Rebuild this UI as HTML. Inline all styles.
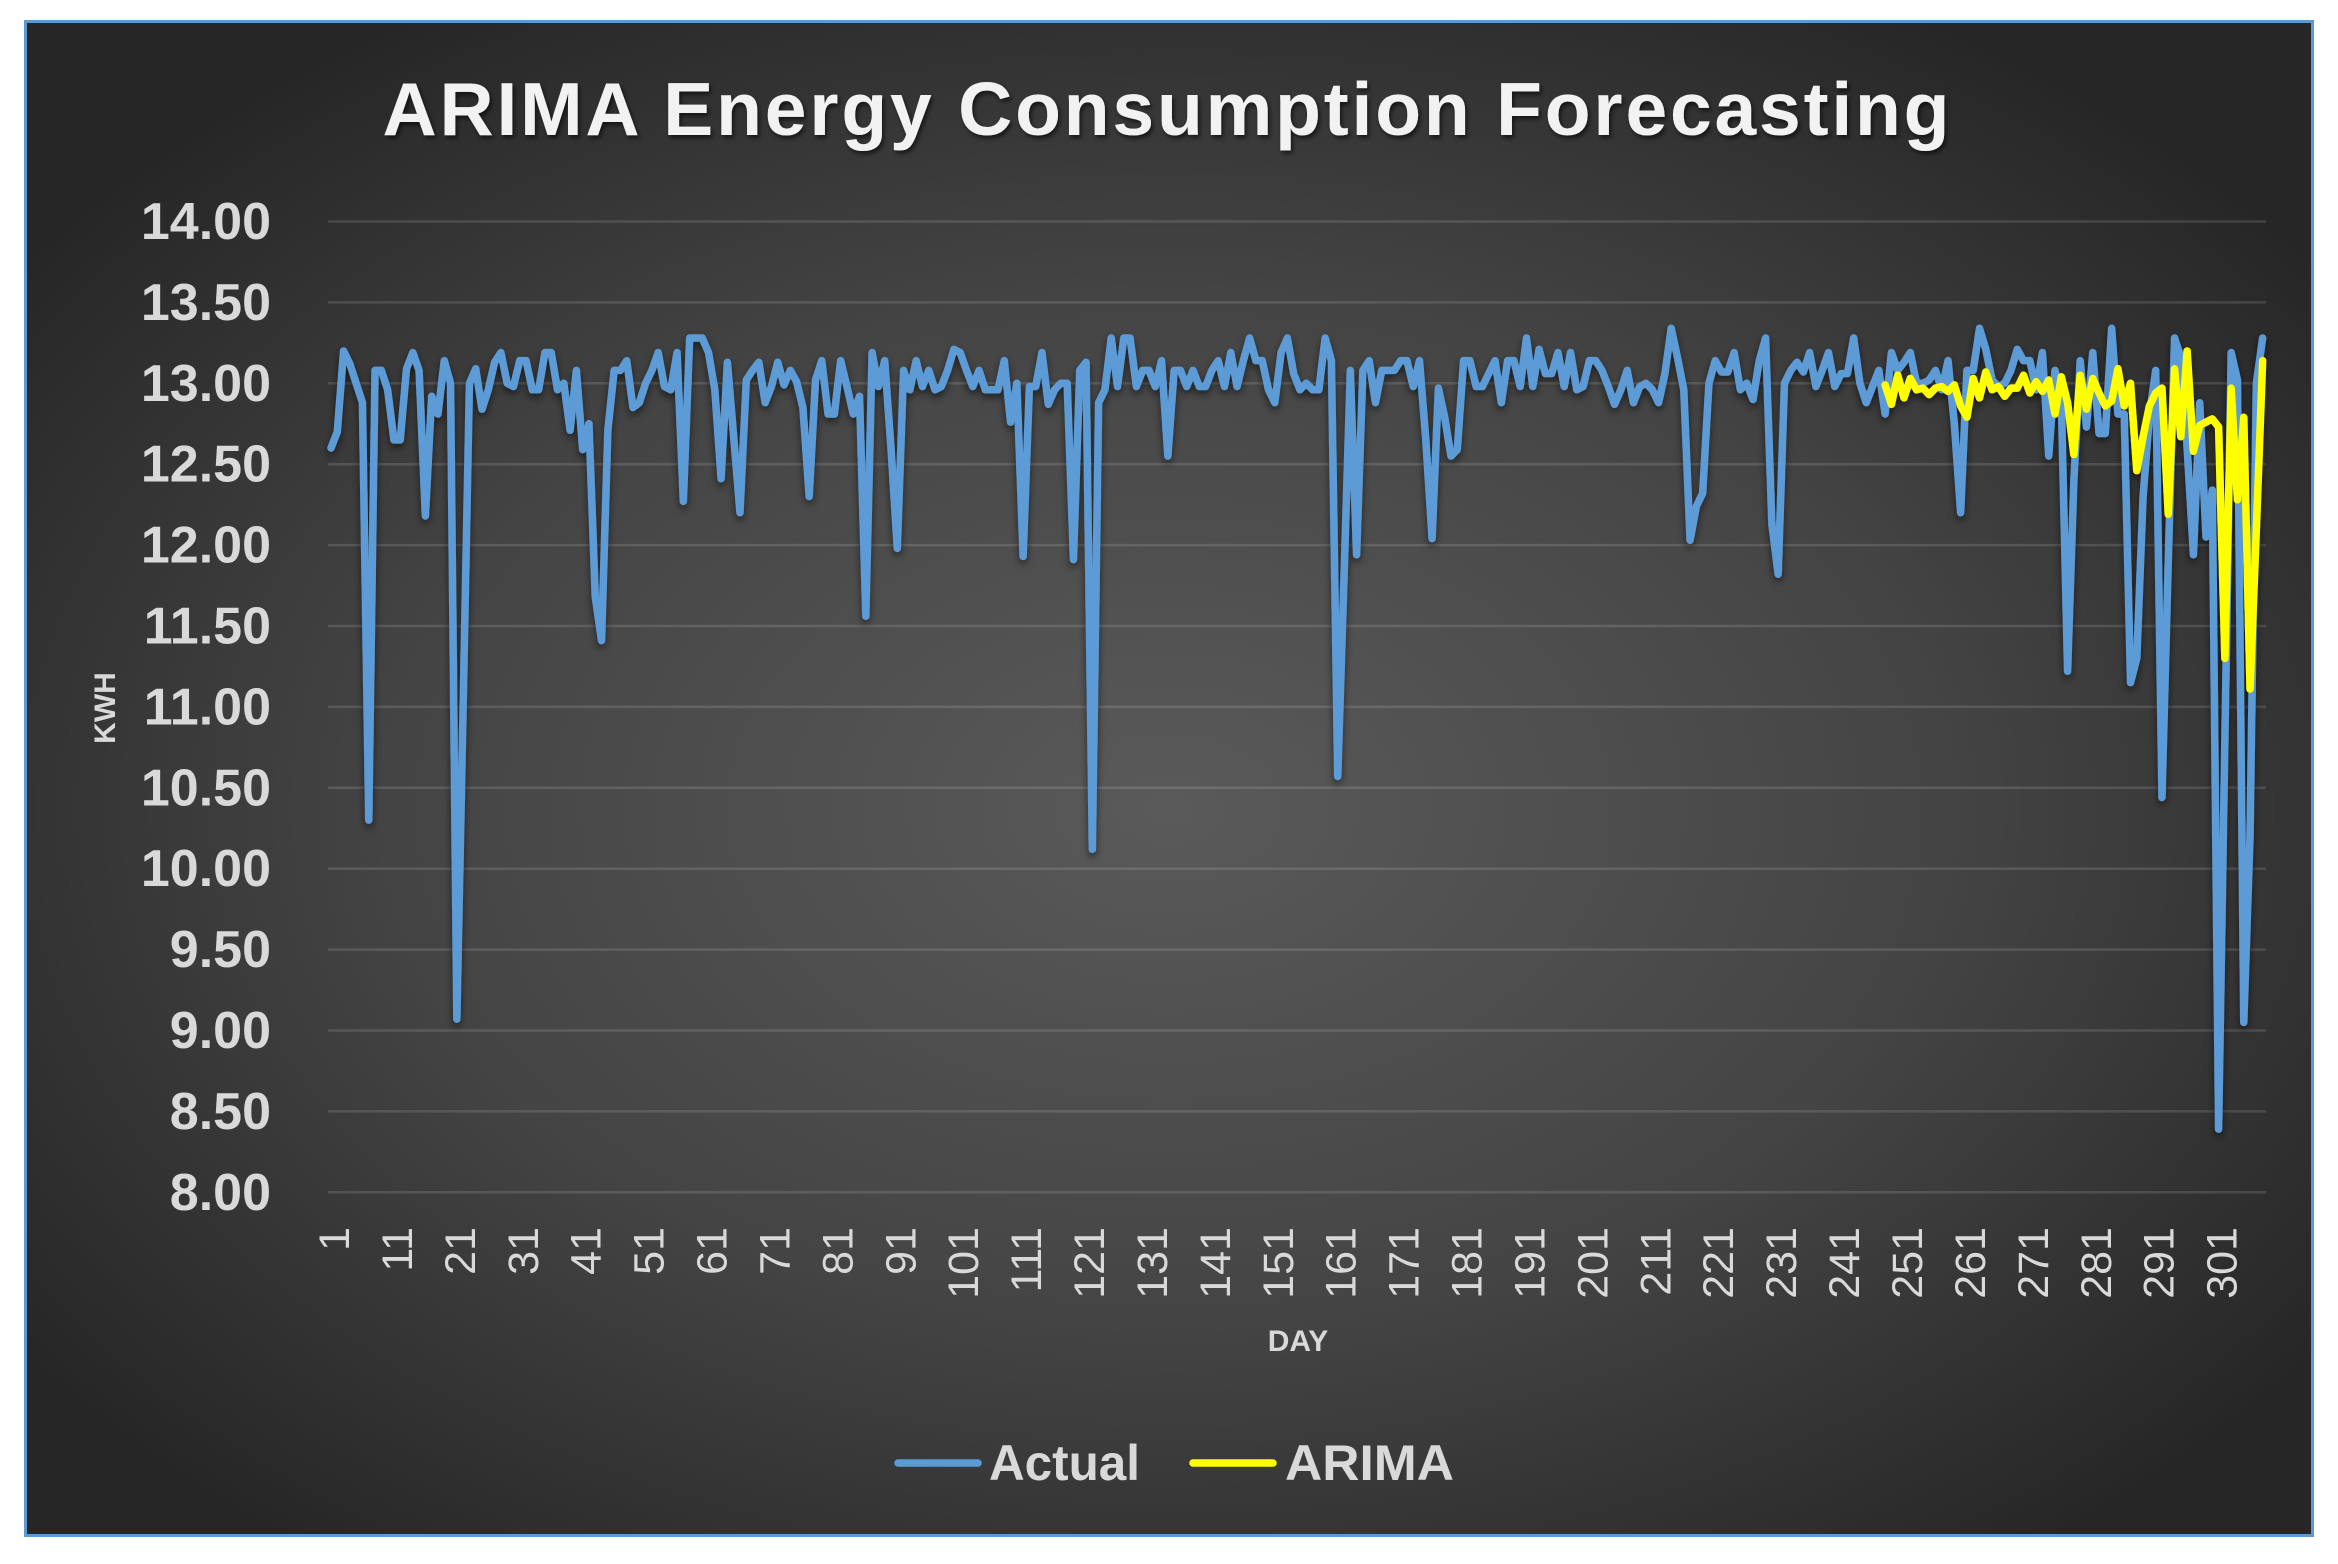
<!DOCTYPE html>
<html>
<head>
<meta charset="utf-8">
<style>
  html, body { margin: 0; padding: 0; background: #ffffff; }
  svg { display: block; }
  text { font-family: "Liberation Sans", Arial, sans-serif; }
</style>
</head>
<body>
<svg width="2338" height="1564" viewBox="0 0 2338 1564" xmlns="http://www.w3.org/2000/svg">
  <defs>
    <radialGradient id="bg" cx="0.5" cy="0.52" r="0.62">
      <stop offset="0" stop-color="#5a5a5a"/>
      <stop offset="0.55" stop-color="#444444"/>
      <stop offset="1" stop-color="#262626"/>
    </radialGradient>
    <filter id="lsh" x="-5%" y="-10%" width="110%" height="130%">
      <feDropShadow dx="0" dy="4" stdDeviation="4" flood-color="#000000" flood-opacity="0.55"/>
    </filter>
    <filter id="tsh" x="-5%" y="-30%" width="110%" height="160%">
      <feDropShadow dx="2" dy="3" stdDeviation="2.5" flood-color="#000000" flood-opacity="0.6"/>
    </filter>
  </defs>

  <rect x="0" y="0" width="2338" height="1564" fill="#ffffff"/>
  <rect x="25.5" y="21.5" width="2287" height="1514" fill="url(#bg)" stroke="#5B9BD5" stroke-width="3"/>

  <!-- Title -->
  <text x="1166" y="135" text-anchor="middle" font-size="75" font-weight="bold" fill="#f2f2f2" textLength="1567" lengthAdjust="spacing" filter="url(#tsh)">ARIMA Energy Consumption Forecasting</text>

  <!-- Gridlines -->
  <g stroke="#ffffff" stroke-opacity="0.13" stroke-width="2.5">
    <line x1="328" y1="221.5" x2="2266" y2="221.5"/>
    <line x1="328" y1="302.4" x2="2266" y2="302.4"/>
    <line x1="328" y1="383.3" x2="2266" y2="383.3"/>
    <line x1="328" y1="464.2" x2="2266" y2="464.2"/>
    <line x1="328" y1="545.1" x2="2266" y2="545.1"/>
    <line x1="328" y1="626.0" x2="2266" y2="626.0"/>
    <line x1="328" y1="706.9" x2="2266" y2="706.9"/>
    <line x1="328" y1="787.8" x2="2266" y2="787.8"/>
    <line x1="328" y1="868.7" x2="2266" y2="868.7"/>
    <line x1="328" y1="949.6" x2="2266" y2="949.6"/>
    <line x1="328" y1="1030.5" x2="2266" y2="1030.5"/>
    <line x1="328" y1="1111.4" x2="2266" y2="1111.4"/>
    <line x1="328" y1="1192.3" x2="2266" y2="1192.3"/>
  </g>

  <!-- Y labels -->
  <g font-size="52" font-weight="bold" fill="#d9d9d9" text-anchor="end">
    <text x="271" y="239">14.00</text>
    <text x="271" y="319.9">13.50</text>
    <text x="271" y="400.8">13.00</text>
    <text x="271" y="481.7">12.50</text>
    <text x="271" y="562.6">12.00</text>
    <text x="271" y="643.5">11.50</text>
    <text x="271" y="724.4">11.00</text>
    <text x="271" y="805.3">10.50</text>
    <text x="271" y="886.2">10.00</text>
    <text x="271" y="967.1">9.50</text>
    <text x="271" y="1048">9.00</text>
    <text x="271" y="1128.9">8.50</text>
    <text x="271" y="1209.8">8.00</text>
  </g>

  <!-- X labels -->
  <g font-size="43" fill="#d9d9d9" text-anchor="end">
    <text transform="translate(349.0,1227) rotate(-90)">1</text>
    <text transform="translate(411.9,1227) rotate(-90)">11</text>
    <text transform="translate(474.8,1227) rotate(-90)">21</text>
    <text transform="translate(537.8,1227) rotate(-90)">31</text>
    <text transform="translate(600.7,1227) rotate(-90)">41</text>
    <text transform="translate(663.6,1227) rotate(-90)">51</text>
    <text transform="translate(726.5,1227) rotate(-90)">61</text>
    <text transform="translate(789.4,1227) rotate(-90)">71</text>
    <text transform="translate(852.4,1227) rotate(-90)">81</text>
    <text transform="translate(915.3,1227) rotate(-90)">91</text>
    <text transform="translate(978.2,1227) rotate(-90)">101</text>
    <text transform="translate(1041.1,1227) rotate(-90)">111</text>
    <text transform="translate(1104.0,1227) rotate(-90)">121</text>
    <text transform="translate(1167.0,1227) rotate(-90)">131</text>
    <text transform="translate(1229.9,1227) rotate(-90)">141</text>
    <text transform="translate(1292.8,1227) rotate(-90)">151</text>
    <text transform="translate(1355.7,1227) rotate(-90)">161</text>
    <text transform="translate(1418.6,1227) rotate(-90)">171</text>
    <text transform="translate(1481.6,1227) rotate(-90)">181</text>
    <text transform="translate(1544.5,1227) rotate(-90)">191</text>
    <text transform="translate(1607.4,1227) rotate(-90)">201</text>
    <text transform="translate(1670.3,1227) rotate(-90)">211</text>
    <text transform="translate(1733.2,1227) rotate(-90)">221</text>
    <text transform="translate(1796.2,1227) rotate(-90)">231</text>
    <text transform="translate(1859.1,1227) rotate(-90)">241</text>
    <text transform="translate(1922.0,1227) rotate(-90)">251</text>
    <text transform="translate(1984.9,1227) rotate(-90)">261</text>
    <text transform="translate(2047.8,1227) rotate(-90)">271</text>
    <text transform="translate(2110.8,1227) rotate(-90)">281</text>
    <text transform="translate(2173.7,1227) rotate(-90)">291</text>
    <text transform="translate(2236.6,1227) rotate(-90)">301</text>
  </g>

  <!-- Axis titles -->
  <text x="1298" y="1351" text-anchor="middle" font-size="30" font-weight="bold" fill="#d9d9d9">DAY</text>
  <text transform="translate(115,708) rotate(-90)" text-anchor="middle" font-size="30" font-weight="bold" fill="#d9d9d9">KWH</text>

  <!-- Series -->
  <g filter="url(#lsh)">
    <g transform="matrix(6.292 0 0 -161.8 324.708 2486.7)">
      <polyline fill="none" stroke="#5B9BD5" stroke-width="7.5" stroke-linejoin="round" stroke-linecap="round" vector-effect="non-scaling-stroke"
        points="1,12.60 2,12.70 3,13.20 4,13.12 5,13.00 6,12.88 7,10.30 8,13.08 9,13.08 10,12.96 11,12.65 12,12.65 13,13.09 14,13.19 15,13.08 16,12.18 17,12.92 18,12.81 19,13.14 20,13.00 21,9.07 22,11.00 23,13.00 24,13.09 25,12.84 26,12.96 27,13.13 28,13.19 29,13.00 30,12.98 31,13.14 32,13.14 33,12.96 34,12.96 35,13.19 36,13.19 37,12.96 38,13.00 39,12.71 40,13.08 41,12.59 42,12.75 43,11.68 44,11.41 45,12.71 46,13.08 47,13.08 48,13.14 49,12.85 50,12.88 51,13.00 52,13.08 53,13.19 54,12.98 55,12.96 56,13.19 57,12.27 58,13.28 59,13.28 60,13.28 61,13.19 62,12.96 63,12.41 64,13.13 65,12.67 66,12.20 67,13.02 68,13.08 69,13.13 70,12.88 71,12.98 72,13.13 73,12.99 74,13.08 75,13.01 76,12.85 77,12.30 78,13.02 79,13.14 80,12.81 81,12.81 82,13.14 83,12.98 84,12.81 85,12.92 86,11.56 87,13.19 88,12.98 89,13.14 90,12.60 91,11.98 92,13.08 93,12.96 94,13.14 95,12.98 96,13.08 97,12.96 98,12.98 99,13.08 100,13.21 101,13.19 102,13.08 103,12.98 104,13.08 105,12.96 106,12.96 107,12.96 108,13.14 109,12.76 110,13.00 111,11.93 112,12.98 113,12.98 114,13.19 115,12.87 116,12.96 117,13.00 118,13.00 119,11.91 120,13.08 121,13.13 122,10.12 123,12.88 124,12.96 125,13.28 126,12.98 127,13.28 128,13.28 129,12.98 130,13.08 131,13.08 132,12.98 133,13.14 134,12.55 135,13.08 136,13.08 137,12.98 138,13.08 139,12.98 140,12.98 141,13.08 142,13.14 143,12.98 144,13.19 145,12.98 146,13.14 147,13.28 148,13.14 149,13.14 150,12.96 151,12.88 152,13.19 153,13.28 154,13.06 155,12.96 156,13.00 157,12.96 158,12.96 159,13.28 160,13.14 161,10.57 162,11.80 163,13.08 164,11.94 165,13.08 166,13.14 167,12.88 168,13.08 169,13.08 170,13.08 171,13.14 172,13.14 173,12.98 174,13.14 175,12.65 176,12.04 177,12.97 178,12.79 179,12.55 180,12.59 181,13.14 182,13.14 183,12.98 184,12.98 185,13.06 186,13.14 187,12.88 188,13.14 189,13.14 190,12.98 191,13.28 192,12.98 193,13.21 194,13.06 195,13.06 196,13.19 197,12.98 198,13.19 199,12.96 200,12.98 201,13.14 202,13.14 203,13.08 204,12.98 205,12.87 206,12.96 207,13.08 208,12.88 209,12.98 210,13.00 211,12.96 212,12.88 213,13.06 214,13.34 215,13.16 216,12.96 217,12.03 218,12.24 219,12.32 220,13.00 221,13.14 222,13.07 223,13.07 224,13.19 225,12.96 226,13.00 227,12.90 228,13.14 229,13.28 230,12.13 231,11.82 232,13.00 233,13.08 234,13.13 235,13.07 236,13.19 237,12.98 238,13.08 239,13.19 240,12.98 241,13.06 242,13.06 243,13.28 244,13.00 245,12.88 246,12.98 247,13.08 248,12.81 249,13.19 250,13.08 251,13.13 252,13.19 253,13.00 254,13.00 255,13.02 256,13.08 257,12.96 258,13.14 259,12.75 260,12.20 261,13.08 262,13.08 263,13.34 264,13.21 265,13.02 266,12.98 267,13.00 268,13.08 269,13.21 270,13.14 271,13.14 272,12.96 273,13.19 274,12.55 275,13.08 276,12.90 277,11.22 278,12.40 279,13.14 280,12.73 281,13.19 282,12.69 283,12.69 284,13.34 285,12.81 286,12.81 287,11.15 288,11.30 289,12.30 290,12.80 291,13.08 292,10.44 293,11.90 294,13.28 295,13.16 296,12.60 297,11.94 298,12.88 299,12.05 300,12.34 301,8.39 302,10.80 303,13.19 304,13.02 305,9.05 306,10.20 307,13.00 308,13.28"/>
      <polyline fill="none" stroke="#FFFF00" stroke-width="7.5" stroke-linejoin="round" stroke-linecap="round" vector-effect="non-scaling-stroke"
        points="248,12.99 249,12.87 250,13.05 251,12.91 252,13.03 253,12.96 254,12.97 255,12.93 256,12.97 257,12.98 258,12.95 259,12.99 260,12.86 261,12.79 262,13.03 263,12.91 264,13.07 265,12.96 266,12.98 267,12.92 268,12.97 269,12.97 270,13.05 271,12.94 272,13.01 273,12.95 274,13.02 275,12.81 276,13.04 277,12.88 278,12.56 279,13.05 280,12.84 281,13.03 282,12.94 283,12.86 284,12.89 285,13.09 286,12.86 287,13.00 288,12.46 289,12.67 290,12.86 291,12.94 292,12.97 293,12.19 294,13.09 295,12.67 296,13.20 297,12.58 298,12.74 299,12.76 300,12.78 301,12.73 302,11.30 303,12.97 304,12.28 305,12.79 306,11.11 307,12.10 308,13.14"/>
    </g>
  </g>

  <!-- Legend -->
  <line x1="898" y1="1463" x2="978" y2="1463" stroke="#5B9BD5" stroke-width="7.5" stroke-linecap="round"/>
  <text x="989" y="1480" font-size="50" font-weight="bold" fill="#d9d9d9" textLength="151" lengthAdjust="spacingAndGlyphs">Actual</text>
  <line x1="1193" y1="1463" x2="1273" y2="1463" stroke="#FFFF00" stroke-width="7.5" stroke-linecap="round"/>
  <text x="1285" y="1480" font-size="50" font-weight="bold" fill="#d9d9d9" textLength="169" lengthAdjust="spacingAndGlyphs">ARIMA</text>
</svg>
</body>
</html>
